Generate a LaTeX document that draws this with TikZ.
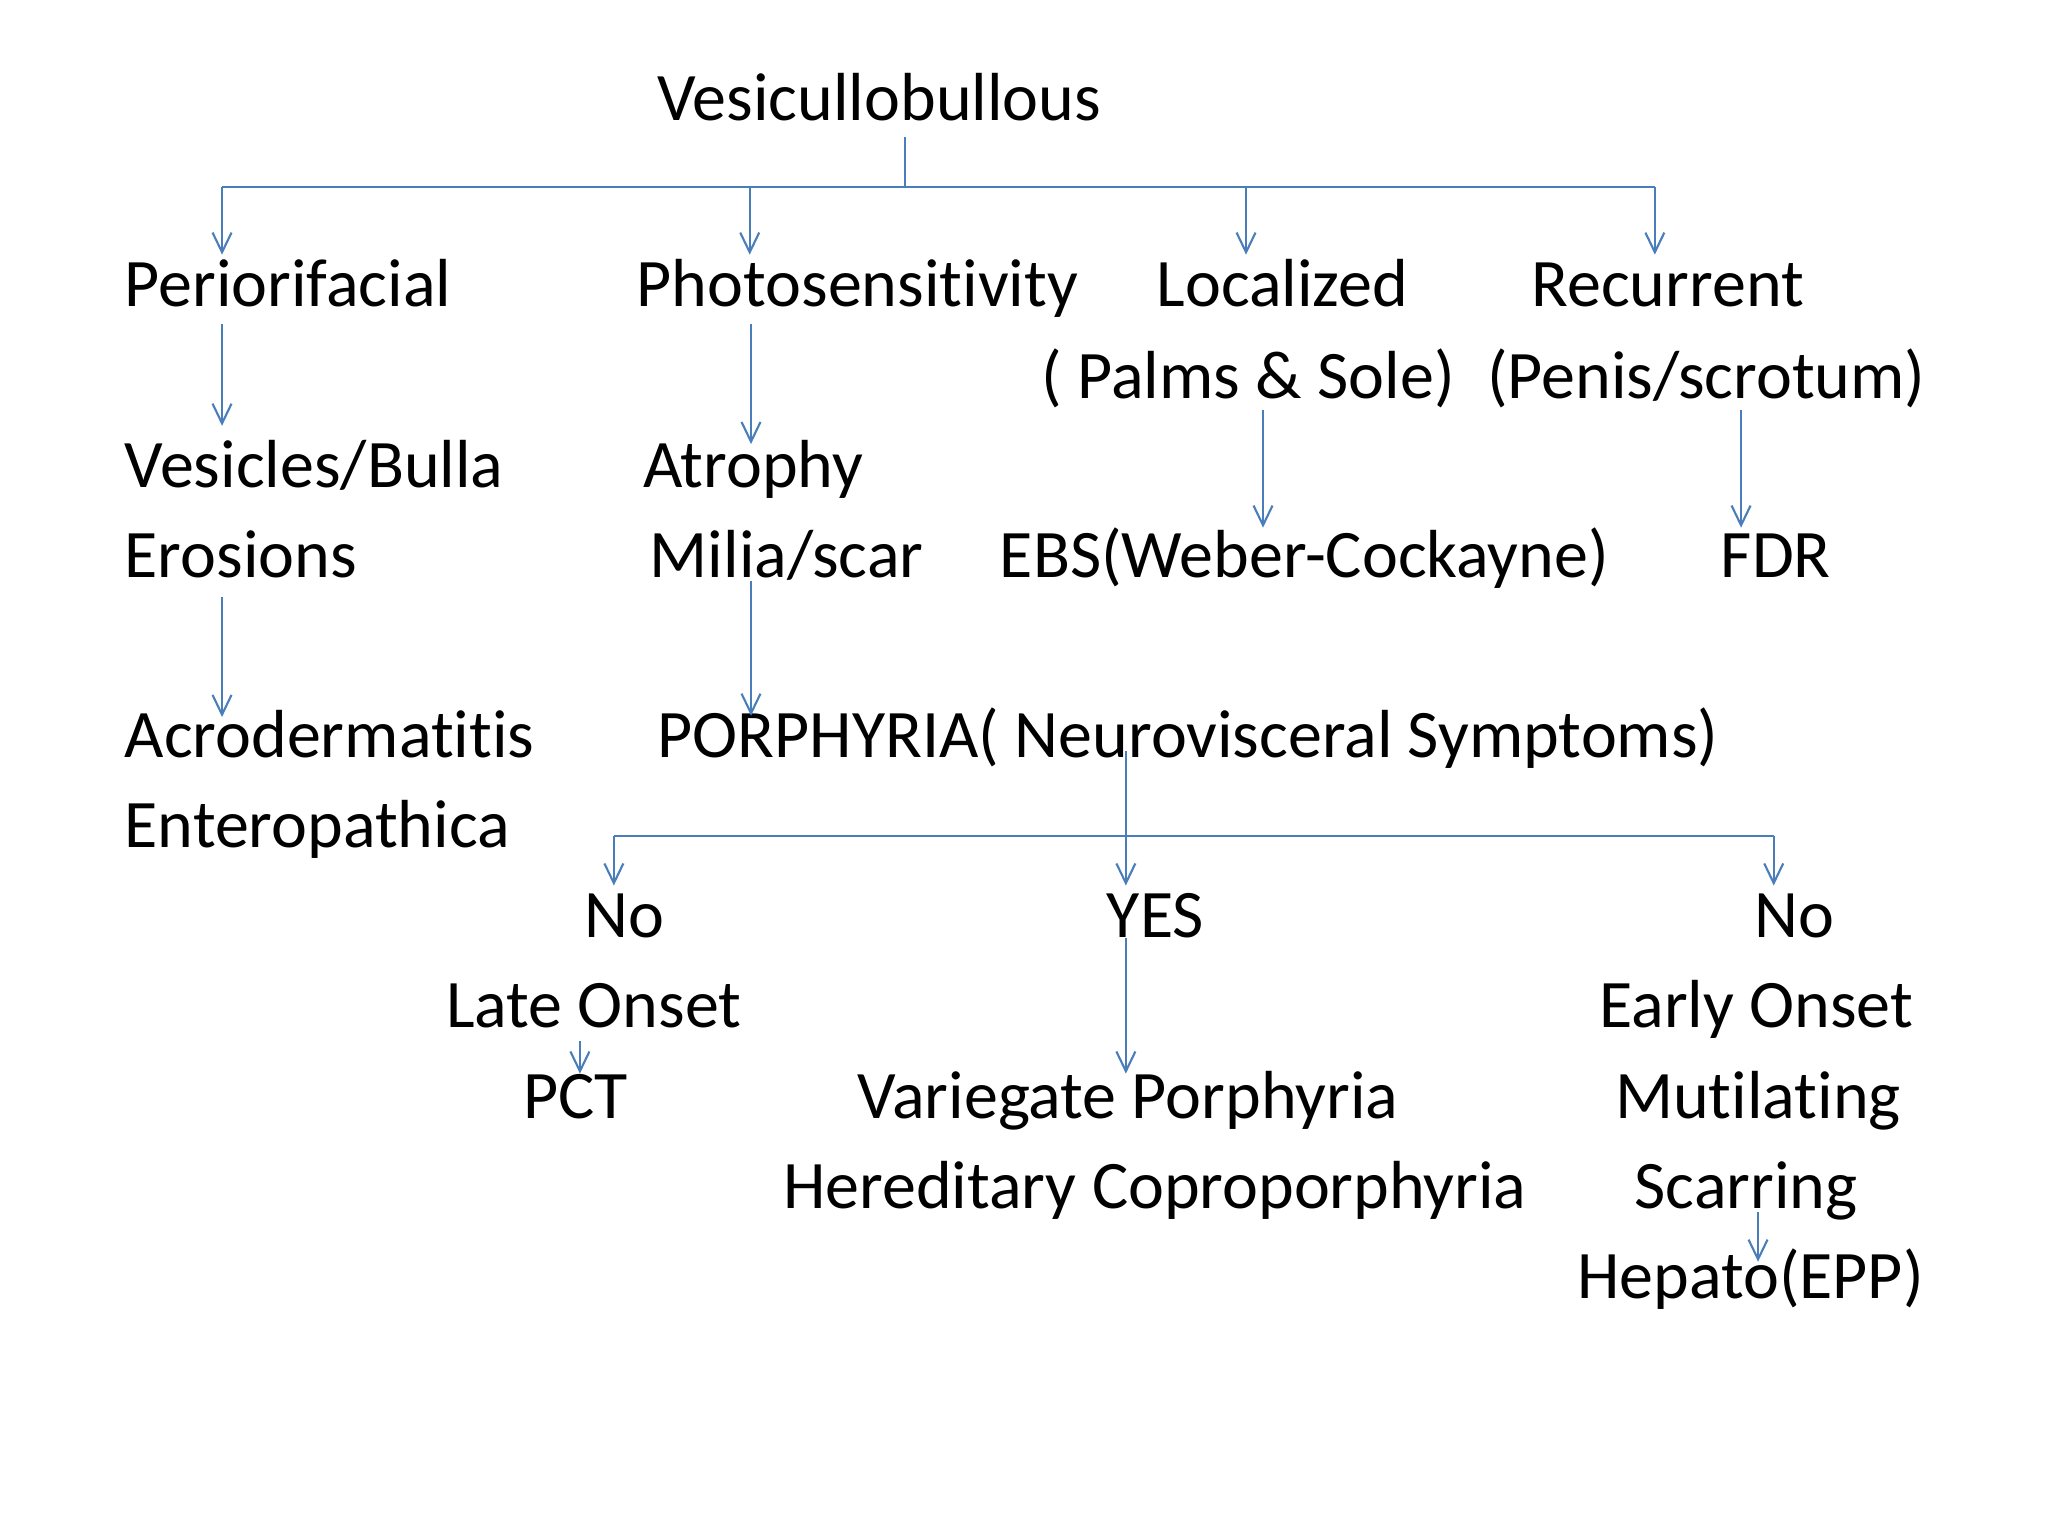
\documentclass[tikz,border=0pt]{standalone}
\usepackage{fontspec}
\setmainfont{Carlito}[Ligatures=NoCommon]
\usetikzlibrary{arrows.meta}
\definecolor{lineblue}{HTML}{4A7EBB}
\tikzset{
  lbl/.style={anchor=base west, inner sep=0pt, font=\fontsize{19.35}{23}\selectfont},
  conn/.style={draw=lineblue, line width=0.6pt},
  arr/.style={conn, -{Straight Barb[length=5.6pt, width=5.4pt]}},
}
\begin{document}
\begin{tikzpicture}[x=0.013061cm, y=-0.013061cm]
\path[use as bounding box, fill=white] (0,0) rectangle (1568,1176);
% texts
\node[lbl] (title) at (503,92) {Vesicullobullous};
\node[lbl] (peri) at (95,235) {Periorifacial};
\node[lbl] (photo) at (487,235) {Photosensitivity};
\node[lbl] (loc) at (885,235) {Localized};
\node[lbl] (rec) at (1172,235) {Recurrent};
\node[lbl] (palms) at (797,305) {( Palms \& Sole)};
\node[lbl] (penis) at (1138,305) {(Penis/scrotum)};
\node[lbl] (vesb) at (95,373) {Vesicles/Bulla};
\node[lbl] (atro) at (492,373) {Atrophy};
\node[lbl] (eros) at (95,442) {Erosions};
\node[lbl] (milia) at (497,442) {Milia/scar};
\node[lbl] (ebs) at (765,442) {EBS(Weber-Cockayne)};
\node[lbl] (fdr) at (1317,442) {FDR};
\node[lbl] (acro) at (95,580) {Acrodermatitis};
\node[lbl] (porph) at (503,580) {PORPHYRIA( Neurovisceral Symptoms)};
\node[lbl] (entero) at (95,649) {Enteropathica};
\node[lbl] (no1) at (447,718) {No};
\node[lbl] (yes) at (847,718) {YES};
\node[lbl] (no2) at (1343,718) {No};
\node[lbl] (late) at (341,787) {Late Onset};
\node[lbl] (early) at (1224,787) {Early Onset};
\node[lbl] (pct) at (400,856) {PCT};
\node[lbl] (varie) at (656,856) {Variegate Porphyria};
\node[lbl] (mutil) at (1236,856) {Mutilating};
\node[lbl] (hered) at (599,925) {Hereditary Coproporphyria};
\node[lbl] (scar) at (1251,925) {Scarring};
\node[lbl] (hep) at (1207,994) {Hepato(EPP)};
% connector coordinates
\coordinate (t0) at (693,105);
\coordinate (t1) at (693,143);
\coordinate (bl) at (170,143);
\coordinate (bph) at (574,143);
\coordinate (blo) at (954,143);
\coordinate (br) at (1267,143);
\coordinate (aperi) at (170,195);
\coordinate (aphoto) at (574,195);
\coordinate (aloc) at (954,195);
\coordinate (arec) at (1267,195);
\coordinate (s1) at (170,248);
\coordinate (e1) at (170,326);
\coordinate (s2) at (575,248);
\coordinate (e2) at (575,340);
\coordinate (s3) at (967,314);
\coordinate (e3) at (967,404);
\coordinate (s4) at (1333,314);
\coordinate (e4) at (1333,404);
\coordinate (s5) at (170,457);
\coordinate (e5) at (170,549);
\coordinate (s6) at (575,445);
\coordinate (e6) at (575,548);
\coordinate (p0) at (862,575);
\coordinate (pl) at (470,640);
\coordinate (pr) at (1358,640);
\coordinate (ano1) at (470,678);
\coordinate (ayes) at (862,678);
\coordinate (ano2) at (1358,678);
\coordinate (s7) at (862,718);
\coordinate (e7) at (862,822);
\coordinate (s8) at (444,797);
\coordinate (e8) at (444,822);
\coordinate (s9) at (1346,928);
\coordinate (e9) at (1346,966);
% connectors
\draw[conn] (t0) -- (t1);
\draw[conn] (bl) -- (br);
\draw[arr] (bl) -- (aperi);
\draw[arr] (bph) -- (aphoto);
\draw[arr] (blo) -- (aloc);
\draw[arr] (br) -- (arec);
\draw[arr] (s1) -- (e1);
\draw[arr] (s2) -- (e2);
\draw[arr] (s3) -- (e3);
\draw[arr] (s4) -- (e4);
\draw[arr] (s5) -- (e5);
\draw[arr] (s6) -- (e6);
\draw[arr] (p0) -- (ayes);
\draw[conn] (pl) -- (pr);
\draw[arr] (pl) -- (ano1);
\draw[arr] (pr) -- (ano2);
\draw[arr] (s7) -- (e7);
\draw[arr] (s8) -- (e8);
\draw[arr] (s9) -- (e9);
\end{tikzpicture}
\end{document}
